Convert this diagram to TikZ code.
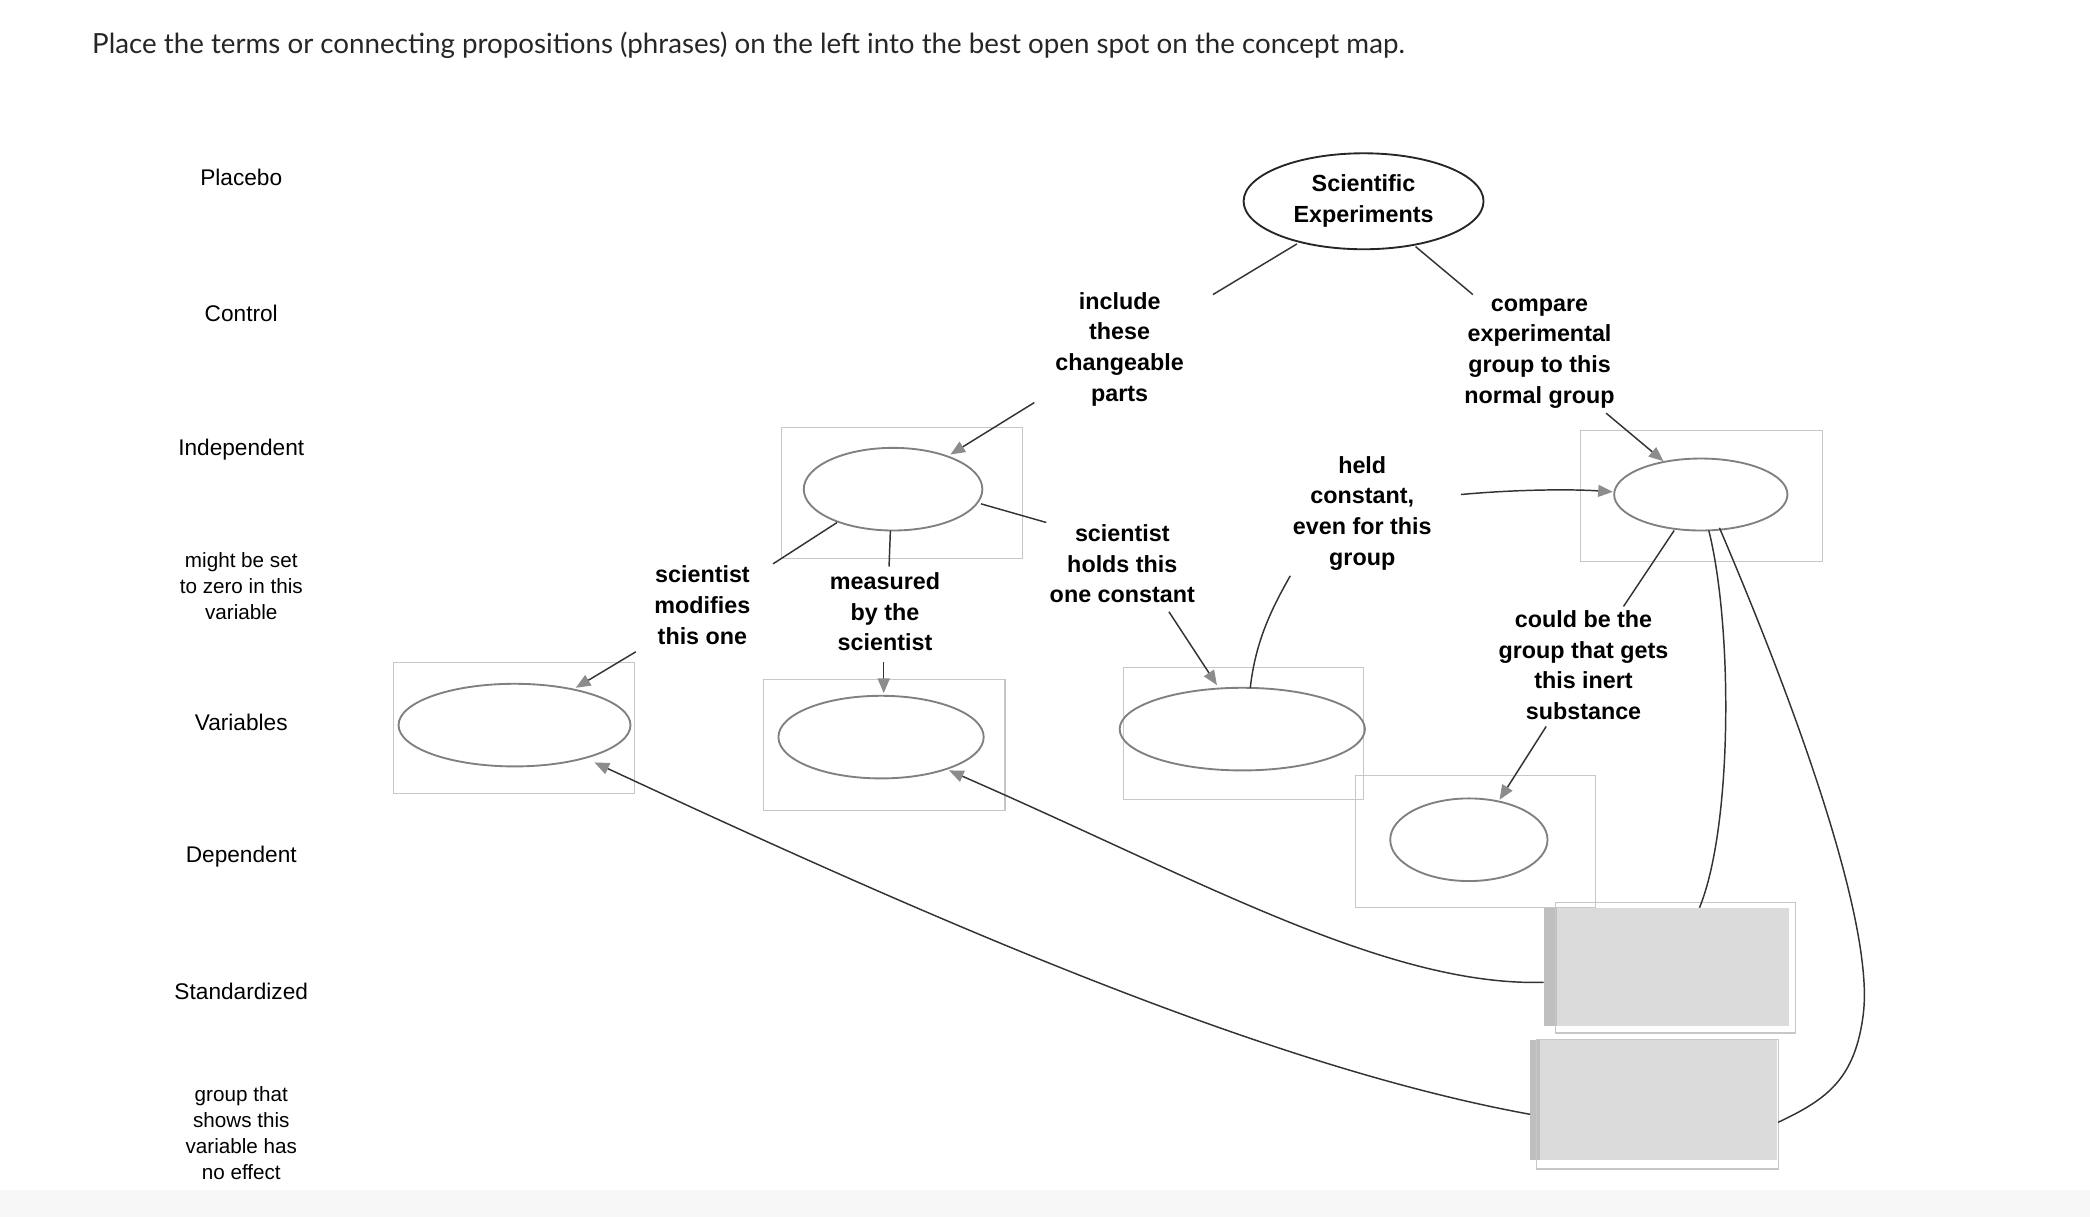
\documentclass[tikz,border=0pt]{standalone}
\usepackage{fontspec}
\setmainfont{Liberation Sans}
\newfontfamily\titlefont{Lato}
\usetikzlibrary{arrows.meta}
\begin{document}
\begin{tikzpicture}[x=1pt,y=-1pt,
  term/.style={align=center,font=\fontsize{17}{20}\selectfont},
  small/.style={align=center,font=\fontsize{15.5}{19.5}\selectfont},
  lab/.style={align=center,font=\fontsize{17.5}{23}\selectfont\bfseries},
  slot/.style={draw=black!22,line width=0.8pt},
  oval/.style={draw=black!50,line width=1.4pt},
  ln/.style={draw=black!80,line width=1.1pt},
  ar/.style={draw=black!80,line width=1.1pt,-{Triangle[length=11pt,width=9pt,fill=black!45,color=black!45]}}]
\useasboundingbox (0,0) rectangle (1568,913);
\fill[black!3] (0,893) rectangle (1568,913);
\node[anchor=west,inner sep=0,font=\titlefont\fontsize{20.8}{24}\selectfont,text=black!85] (title) at (69,34) {Place the terms or connecting propositions (phrases) on the left into the best open spot on the concept map.};
% left list
\node[term] (t1) at (181,133) {Placebo};
\node[term] (t2) at (181,235) {Control};
\node[term] (t3) at (181,337) {Independent};
\node[small] (t4) at (181,440) {might be set\\to zero in this\\variable};
\node[term] (t5) at (181,542) {Variables};
\node[term] (t6) at (181,643) {Dependent};
\node[term] (t7) at (181,744) {Standardized};
\node[small] (t8) at (181,850) {group that\\shows this\\variable has\\no effect};
% root
\draw[oval,draw=black!85] (1023,151) ellipse (90 and 36);
\node[lab] (root) at (1023,151) {Scientific\\Experiments};
% boxes and ovals
\draw[slot] (586,321) rectangle (767,419); \draw[oval] (670,367) ellipse (67 and 31);
\draw[slot] (1186,323) rectangle (1367,421); \draw[oval] (1276,371) ellipse (65 and 27);
\draw[slot] (295,497) rectangle (476,595); \draw[oval] (386,544) ellipse (87 and 31);
\draw[slot] (573,510) rectangle (754,608); \draw[oval] (661,553) ellipse (77 and 31);
\draw[slot] (843,501) rectangle (1023,600); \draw[oval] (932,547) ellipse (92 and 31);
\draw[slot] (1017,582) rectangle (1197,681); \draw[oval] (1102,630) ellipse (59 and 31);
\fill[black!25] (1158,681) rectangle (1168,770);
\fill[black!14] (1168,681) rectangle (1342,770);
\draw[slot] (1167,677) rectangle (1347,775);
\fill[black!25] (1148,780) rectangle (1155,870);
\fill[black!14] (1155,780) rectangle (1333,870);
\draw[slot] (1153,780) rectangle (1334,877);
% labels
\node[lab] (l1) at (840,262) {include\\these\\changeable\\parts};
\node[lab] (l2) at (1155,265) {compare\\experimental\\group to this\\normal group};
\node[lab] (l3) at (527,454) {scientist\\modifies\\this one};
\node[lab] (l4) at (664,459) {measured\\by the\\scientist};
\node[lab] (l5) at (842,423) {scientist\\holds this\\one constant};
\node[lab] (l6) at (1022,385) {held\\constant,\\even for this\\group};
\node[lab] (l7) at (1188,499) {could be the\\group that gets\\this inert\\substance};
% connectors
\draw[ln] (973,183) -- (910,221);
\draw[ar] (776,302) -- (713,341);
\draw[ln] (1062,185) -- (1105,221);
\draw[ar] (1205,310) -- (1248,346);
\draw[ln] (628,392) -- (580,423);
\draw[ar] (477,489) -- (432,516);
\draw[ln] (668,398) -- (667,425);
\draw[ar] (663,497) -- (663,520);
\draw[ln] (736,378) -- (785,392);
\draw[ar] (877,459) -- (913,514);
\draw[ln] (938,516) .. controls (942,480) and (955,455) .. (968,432);
\draw[ar] (1096,371) .. controls (1140,367) and (1180,367) .. (1210,369);
\draw[ln] (1256,398) -- (1218,455);
\draw[ar] (1160,545) -- (1125,600);
\draw[ar] (1158,737) .. controls (1040,740) and (900,660) .. (712,578);
\draw[ar] (1148,836) .. controls (950,800) and (700,690) .. (446,572);
\draw[ln] (1282,398) .. controls (1300,470) and (1300,620) .. (1275,681);
\draw[ln] (1290,396) .. controls (1360,560) and (1405,700) .. (1398,760) .. controls (1392,810) and (1370,825) .. (1334,842);
\end{tikzpicture}
\end{document}
